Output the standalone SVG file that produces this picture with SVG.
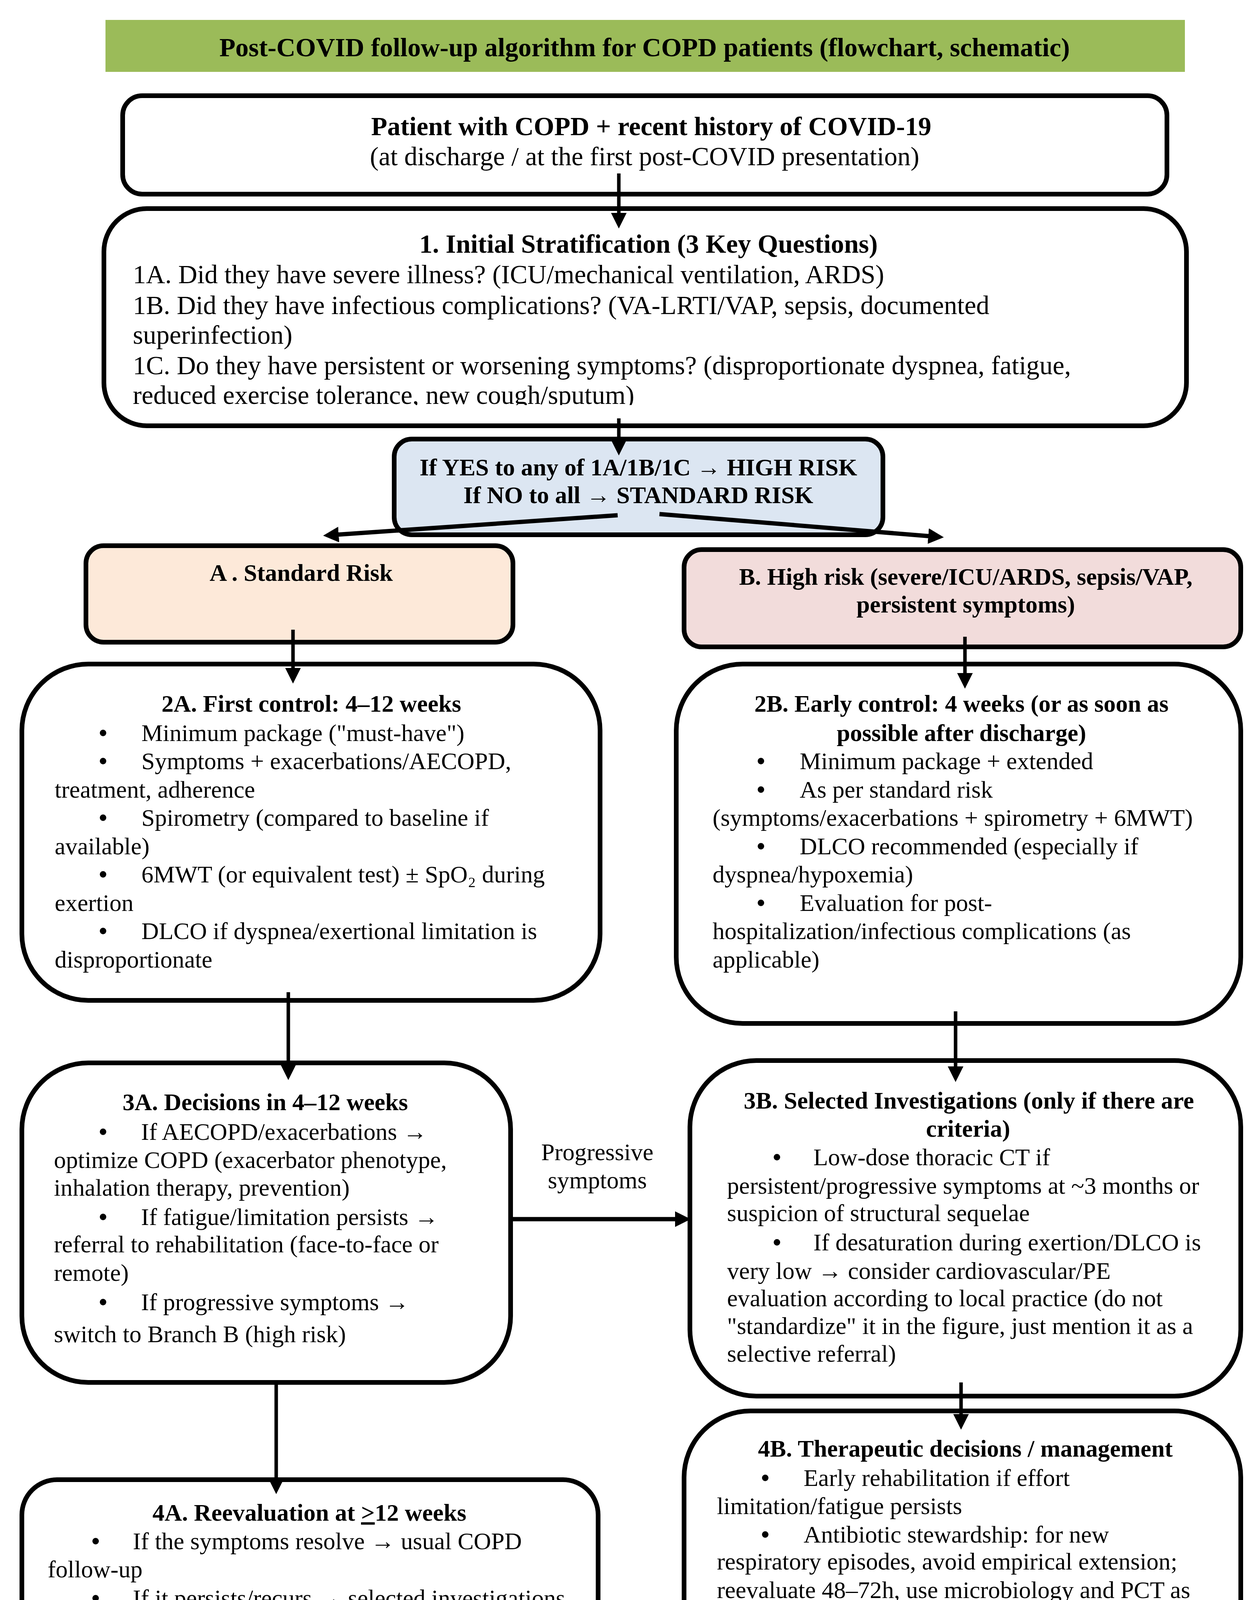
<svg xmlns="http://www.w3.org/2000/svg" width="3215" height="4495" viewBox="0 0 3215 4495">
<style>
.t{font-family:"Liberation Serif","Times New Roman","DejaVu Serif",serif;font-size:67.5px;fill:#000}
.s{font-size:61.6px}
.b{font-weight:bold}
.c{text-anchor:middle}
.bu{font-weight:bold}
.box{fill:#fff;stroke:#000;stroke-width:12}
.conn{stroke:#000;stroke-width:9;fill:none;marker-end:url(#ah)}
.thick{stroke-width:11}
</style>
<defs>
<marker id="ah" markerUnits="userSpaceOnUse" viewBox="0 0 40 40" markerWidth="40" markerHeight="40" refX="8" refY="20" orient="auto">
<path d="M0,0 L40,20 L0,40 Z" fill="#000"/>
</marker>
<clipPath id="clipStrat"><rect x="0" y="0" width="3215" height="1037"/></clipPath>
<clipPath id="clip4B"><rect x="0" y="3600" width="3215" height="782"/></clipPath>
</defs>
<rect width="3215" height="4495" fill="#fff"/>

<g id="title">
<rect x="270" y="51" width="2763" height="133" fill="#9BBB59"/>
<text class="t b c" x="1650" y="144">Post-COVID follow-up algorithm for COPD patients (flowchart, schematic)</text>
</g>

<g id="patient">
<rect class="box" x="314" y="245" width="2673" height="252" rx="50"/>
<text class="t b c" x="1667" y="346">Patient with COPD + recent history of COVID-19</text>
<text class="t c" x="1650" y="423">(at discharge / at the first post-COVID presentation)</text>
</g>

<g id="stratification">
<rect class="box" x="266" y="534" width="2771" height="556" rx="110"/>
<text class="t b c" x="1660" y="647">1. Initial Stratification (3 Key Questions)</text>
<g clip-path="url(#clipStrat)">
<text class="t" x="340" y="725">1A. Did they have severe illness? (ICU/mechanical ventilation, ARDS)</text>
<text class="t" x="340" y="804">1B. Did they have infectious complications? (VA-LRTI/VAP, sepsis, documented</text>
<text class="t" x="340" y="880">superinfection)</text>
<text class="t" x="340" y="958">1C. Do they have persistent or worsening symptoms? (disproportionate dyspnea, fatigue,</text>
<text class="t" x="340" y="1034">reduced exercise tolerance, new cough/sputum)</text>
</g>
</g>

<g id="risk">
<rect class="box" x="1009" y="1124" width="1251" height="245" rx="45" style="fill:#DCE6F2"/>
<text class="t s b c" x="1634" y="1217">If YES to any of 1A/1B/1C → HIGH RISK</text>
<text class="t s b c" x="1634" y="1288">If NO to all → STANDARD RISK</text>
</g>

<g id="standardRisk">
<rect class="box" x="220" y="1397" width="1093" height="247" rx="45" style="fill:#FDE9D9"/>
<text class="t s b c" x="771" y="1487">A . Standard Risk</text>
</g>

<g id="highRisk">
<rect class="box" x="1751" y="1407" width="1425" height="249" rx="45" style="fill:#F2DCDB"/>
<text class="t s b c" x="2472" y="1497">B. High risk (severe/ICU/ARDS, sepsis/VAP,</text>
<text class="t s b c" x="2472" y="1568">persistent symptoms)</text>
</g>

<g id="box2A">
<rect class="box" x="56" y="1700" width="1480" height="861" rx="170"/>
<text class="t s b c" x="797" y="1822">2A. First control: 4–12 weeks</text>
<text class="t s" y="1897"><tspan class="bu" x="253">•</tspan><tspan x="362">Minimum package ("must-have")</tspan></text>
<text class="t s" y="1969"><tspan class="bu" x="253">•</tspan><tspan x="362">Symptoms + exacerbations/AECOPD,</tspan></text>
<text class="t s" x="140" y="2042">treatment, adherence</text>
<text class="t s" y="2114"><tspan class="bu" x="253">•</tspan><tspan x="362">Spirometry (compared to baseline if</tspan></text>
<text class="t s" x="140" y="2187">available)</text>
<text class="t s" y="2259"><tspan class="bu" x="253">•</tspan><tspan x="362">6MWT (or equivalent test) ± SpO₂ during</tspan></text>
<text class="t s" x="140" y="2332">exertion</text>
<text class="t s" y="2404"><tspan class="bu" x="253">•</tspan><tspan x="362">DLCO if dyspnea/exertional limitation is</tspan></text>
<text class="t s" x="140" y="2477">disproportionate</text>
</g>

<g id="box2B">
<rect class="box" x="1731" y="1700" width="1445" height="920" rx="170"/>
<text class="t s b c" x="2461" y="1822">2B. Early control: 4 weeks (or as soon as</text>
<text class="t s b c" x="2461" y="1897">possible after discharge)</text>
<text class="t s" y="1969"><tspan class="bu" x="1937">•</tspan><tspan x="2047">Minimum package + extended</tspan></text>
<text class="t s" y="2042"><tspan class="bu" x="1937">•</tspan><tspan x="2047">As per standard risk</tspan></text>
<text class="t s" x="1824" y="2114">(symptoms/exacerbations + spirometry + 6MWT)</text>
<text class="t s" y="2187"><tspan class="bu" x="1937">•</tspan><tspan x="2047">DLCO recommended (especially if</tspan></text>
<text class="t s" x="1824" y="2259">dyspnea/hypoxemia)</text>
<text class="t s" y="2332"><tspan class="bu" x="1937">•</tspan><tspan x="2047">Evaluation for post-</tspan></text>
<text class="t s" x="1824" y="2404">hospitalization/infectious complications (as</text>
<text class="t s" x="1824" y="2477">applicable)</text>
</g>

<g id="box3A">
<rect class="box" x="56" y="2721" width="1251" height="818" rx="170"/>
<text class="t s b c" x="679" y="2842">3A. Decisions in 4–12 weeks</text>
<text class="t s" y="2918"><tspan class="bu" x="253">•</tspan><tspan x="361">If AECOPD/exacerbations →</tspan></text>
<text class="t s" x="138" y="2990">optimize COPD (exacerbator phenotype,</text>
<text class="t s" x="138" y="3061">inhalation therapy, prevention)</text>
<text class="t s" y="3136"><tspan class="bu" x="253">•</tspan><tspan x="361">If fatigue/limitation persists →</tspan></text>
<text class="t s" x="138" y="3206">referral to rehabilitation (face-to-face or</text>
<text class="t s" x="138" y="3279">remote)</text>
<text class="t s" y="3354"><tspan class="bu" x="253">•</tspan><tspan x="361">If progressive symptoms →</tspan></text>
<text class="t s" x="138" y="3436">switch to Branch B (high risk)</text>
</g>

<g id="box3B">
<rect class="box" x="1766" y="2715" width="1410" height="859" rx="170"/>
<text class="t s b c" x="2480" y="2838">3B. Selected Investigations (only if there are</text>
<text class="t s b c" x="2478" y="2910">criteria)</text>
<text class="t s" y="2983"><tspan class="bu" x="1978">•</tspan><tspan x="2082">Low-dose thoracic CT if</tspan></text>
<text class="t s" x="1861" y="3056">persistent/progressive symptoms at ~3 months or</text>
<text class="t s" x="1861" y="3126">suspicion of structural sequelae</text>
<text class="t s" y="3201"><tspan class="bu" x="1978">•</tspan><tspan x="2082">If desaturation during exertion/DLCO is</tspan></text>
<text class="t s" x="1861" y="3274">very low → consider cardiovascular/PE</text>
<text class="t s" x="1861" y="3344">evaluation according to local practice (do not</text>
<text class="t s" x="1861" y="3415">"standardize" it in the figure, just mention it as a</text>
<text class="t s" x="1861" y="3486">selective referral)</text>
</g>

<g id="box4A">
<rect class="box" x="56" y="3788" width="1475" height="454" rx="90"/>
<text class="t s b c" x="792" y="3893">4A. Reevaluation at <tspan text-decoration="underline">&gt;</tspan>12 weeks</text>
<text class="t s" y="3966"><tspan class="bu" x="234">•</tspan><tspan x="340">If the symptoms resolve → usual COPD</tspan></text>
<text class="t s" x="122" y="4038">follow-up</text>
<text class="t s" y="4112"><tspan class="bu" x="234">•</tspan><tspan x="340">If it persists/recurs → selected investigations</tspan></text>
<text class="t s" x="122" y="4183">(see below)</text>
</g>

<g id="box4B">
<rect class="box" x="1751" y="3612" width="1425" height="838" rx="170"/>
<text class="t s b c" x="2471" y="3729">4B. Therapeutic decisions / management</text>
<g clip-path="url(#clip4B)">
<text class="t s" y="3804"><tspan class="bu" x="1948">•</tspan><tspan x="2057">Early rehabilitation if effort</tspan></text>
<text class="t s" x="1835" y="3876">limitation/fatigue persists</text>
<text class="t s" y="3949"><tspan class="bu" x="1948">•</tspan><tspan x="2057">Antibiotic stewardship: for new</tspan></text>
<text class="t s" x="1835" y="4018">respiratory episodes, avoid empirical extension;</text>
<text class="t s" x="1835" y="4091">reevaluate 48–72h, use microbiology and PCT as</text>
<text class="t s" x="1835" y="4162">support for stopping/de-escalation</text>
<text class="t s" y="4236"><tspan class="bu" x="1948">•</tspan><tspan x="2057">If there was sepsis/VA-LRTI/VAP →</tspan></text>
<text class="t s" x="1835" y="4307">stricter follow-up + education on signs of</text>
<text class="t s" x="1835" y="4377">reinfection (risk of readmission)</text>
</g>
</g>

<g id="label">
<text class="t s c" x="1529" y="2970">Progressive</text>
<text class="t s c" x="1529" y="3042">symptoms</text>
</g>

<g id="connectors">
<line class="conn" x1="1584" y1="444" x2="1584" y2="553"/>
<line class="conn" x1="1584" y1="1071" x2="1584" y2="1134"/>
<line class="conn thick" x1="1581" y1="1319" x2="859" y2="1369"/>
<line class="conn thick" x1="1688" y1="1316" x2="2384" y2="1373"/>
<line class="conn" x1="750" y1="1612" x2="750" y2="1718"/>
<line class="conn" x1="2470" y1="1630" x2="2470" y2="1731"/>
<line class="conn" x1="738" y1="2540" x2="738" y2="2733"/>
<line class="conn" x1="2446" y1="2589" x2="2446" y2="2738"/>
<line class="conn thick" x1="1313" y1="3121" x2="1736" y2="3121"/>
<line class="conn" x1="2460" y1="3539" x2="2460" y2="3628"/>
<line class="conn" x1="707" y1="3533" x2="707" y2="3793"/>
</g>
</svg>
